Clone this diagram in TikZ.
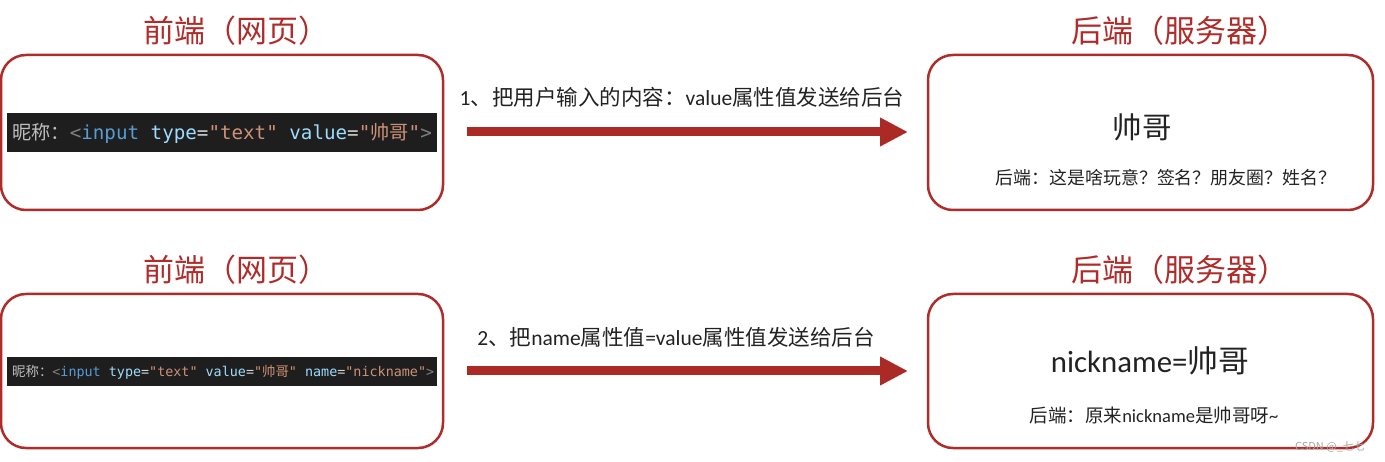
\documentclass[tikz,border=0pt]{standalone}
\usepackage{fontspec}
\setmainfont{Carlito}
\setmonofont{DejaVu Sans Mono}
\newfontfamily\cjk{Noto Sans CJK SC}
\usetikzlibrary{arrows.meta}
\definecolor{bred}{RGB}{176,44,42}
\definecolor{ared}{RGB}{172,42,38}
\definecolor{codebg}{RGB}{30,30,30}
\definecolor{cgray}{RGB}{190,190,190}
\definecolor{cbrack}{RGB}{128,128,128}
\definecolor{ckey}{RGB}{86,156,214}
\definecolor{cattr}{RGB}{156,220,254}
\definecolor{ceq}{RGB}{212,212,212}
\definecolor{cstr}{RGB}{206,145,120}
\definecolor{txt}{RGB}{34,34,34}
\newcommand{\cjkfs}[1]{\cjk\fontsize{#1}{#1}\selectfont}
\begin{document}
\begin{tikzpicture}[x=1pt,y=-1pt,
  title/.style={text=bred,font=\cjkfs{31},inner sep=0pt},
  panel/.style={draw=bred,line width=2.5pt,rounded corners=25pt,inner sep=0pt},
  codebar/.style={fill=codebg,inner sep=0pt},
  codetext/.style={anchor=west,inner sep=0pt},
  bigarrow/.style={draw=ared,line width=9pt,-{Triangle[length=28pt,width=27pt]}},
  label/.style={text=txt,inner sep=0pt},
]
\useasboundingbox (0,0) rectangle (1385,462);
% titles
\node[title] (t1) at (236,31) {前端（网页）};
\node[title] (t2) at (1180,31) {后端（服务器）};
\node[title] (t3) at (236,270) {前端（网页）};
\node[title] (t4) at (1180,270) {后端（服务器）};
% panels
\node[panel,minimum width=442pt,minimum height=155pt] (p1) at (222,132.5) {};
\node[panel,minimum width=445pt,minimum height=155pt] (p2) at (1150.5,132.5) {};
\node[panel,minimum width=442pt,minimum height=154pt] (p3) at (222,371) {};
\node[panel,minimum width=445pt,minimum height=154pt] (p4) at (1150.5,371) {};
% code bars
\node[codebar,minimum width=430pt,minimum height=39pt] (c1) at (222,132.5) {};
\node[codetext,font=\fontsize{19.2}{21}\ttfamily] (ct1) at (12,133) {\textcolor{cgray}{\cjk 昵称：}\textcolor{cbrack}{<}\textcolor{ckey}{input} \textcolor{cattr}{type}\textcolor{ceq}{=}\textcolor{cstr}{"text"} \textcolor{cattr}{value}\textcolor{ceq}{=}\textcolor{cstr}{"{\cjk 帅哥}"}\textcolor{cbrack}{>}};
\node[codebar,minimum width=430pt,minimum height=29pt] (c2) at (222,371.5) {};
\node[codetext,font=\fontsize{13.4}{15}\ttfamily] (ct2) at (12,372) {\textcolor{cgray}{\cjk 昵称：}\textcolor{cbrack}{<}\textcolor{ckey}{input} \textcolor{cattr}{type}\textcolor{ceq}{=}\textcolor{cstr}{"text"} \textcolor{cattr}{value}\textcolor{ceq}{=}\textcolor{cstr}{"{\cjk 帅哥}"} \textcolor{cattr}{name}\textcolor{ceq}{=}\textcolor{cstr}{"nickname"}\textcolor{cbrack}{>}};
% arrows
\coordinate (a1s) at (467,132);
\coordinate (a1e) at (908,132);
\coordinate (a2s) at (467,371);
\coordinate (a2e) at (908,371);
\draw[bigarrow] (a1s) -- (a1e);
\draw[bigarrow] (a2s) -- (a2e);
% arrow labels
\node[label,font=\fontsize{21.5}{23}\selectfont] (l1) at (682,97) {1{\cjk 、把用户输入的内容：}value{\cjk 属性值发送给后台}};
\node[label,font=\fontsize{21.5}{23}\selectfont] (l2) at (676,337) {2{\cjk 、把}name{\cjk 属性值}=value{\cjk 属性值发送给后台}};
% backend texts
\node[label,font=\cjkfs{29.5}] (b1) at (1142,127) {帅哥};
\node[label,font=\cjkfs{17.9}] (b2) at (1166,178) {后端：这是啥玩意？签名？朋友圈？姓名？};
\node[label,font=\fontsize{30.8}{32}\selectfont] (b3) at (1150,361) {nickname={\cjk 帅哥}};
\node[label,font=\fontsize{18.5}{20}\selectfont] (b4) at (1154,415) {{\cjk 后端：原来}nickname{\cjk 是帅哥呀}\textasciitilde};
% watermark
\node[inner sep=0pt,text=black!35,font=\cjkfs{11}] (wm) at (1330,447) {CSDN @\_七七};
\end{tikzpicture}
\end{document}
